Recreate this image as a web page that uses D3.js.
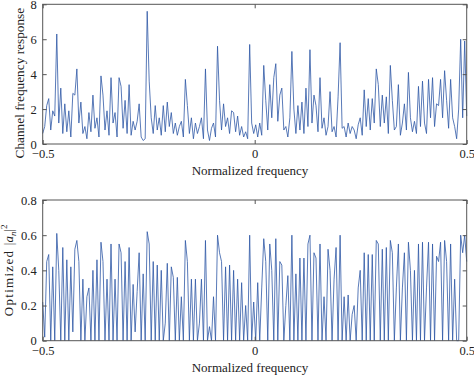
<!DOCTYPE html>
<html>
<head>
<meta charset="utf-8">
<script src="https://cdn.jsdelivr.net/npm/d3@7"></script>
<style>
body { margin: 0; background: #fff; }
text { font-family: "Liberation Serif", "Times New Roman", serif; fill: #222; }
</style>
</head>
<body>
<div id="chart"></div>
<script>
// channel frequency response (top panel)
var response = [
    0.6, 1.0, 2.2, 2.6, 0.8, 1.9, 1.6, 6.3, 1.2, 3.2,
    0.6, 2.3, 0.7, 1.9, 0.4, 2.9, 2.8, 4.3, 1.2, 2.4,
    0.6, 1.0, 0.3, 1.8, 0.7, 2.8, 0.9, 1.5, 0.4, 3.9,
    2.8, 0.8, 1.9, 0.5, 3.8, 1.2, 1.8, 0.4, 3.8, 3.3,
    0.9, 2.5, 0.6, 3.4, 0.5, 1.3, 0.8, 1.3, 2.3, 0.4,
    0.2, 0.3, 7.6, 3.6, 1.5, 0.6, 2.2, 0.8, 1.5, 0.5,
    2.2, 0.7, 2.4, 1.0, 1.8, 0.6, 1.2, 0.5, 1.0, 1.3,
    0.4, 3.7, 2.2, 0.6, 1.5, 0.3, 1.2, 0.6, 1.0, 1.5,
    0.3, 4.3, 0.8, 0.2, 0.9, 1.2, 0.4, 5.6, 2.5, 0.8,
    2.3, 1.0, 1.5, 0.6, 1.9, 1.8, 0.7, 1.6, 0.5, 1.0,
    0.4, 0.7, 0.3, 5.7, 1.2, 0.6, 1.1, 0.4, 1.2, 0.5,
    4.5, 2.5, 0.8, 3.4, 1.5, 3.8, 4.6, 1.3, 2.8, 3.2,
    0.8, 1.0, 0.4, 1.5, 5.3, 2.0, 0.6, 2.2, 0.8, 2.4,
    0.6, 3.2, 1.0, 5.4, 1.2, 2.8, 2.2, 0.7, 3.8, 0.9,
    1.5, 0.5, 1.0, 3.0, 0.7, 1.0, 0.4, 2.7, 5.8, 0.9,
    1.0, 0.4, 1.2, 0.6, 1.0, 0.8, 0.3, 1.1, 1.5, 0.5,
    3.1, 1.0, 2.6, 0.8, 2.6, 1.2, 4.3, 3.4, 1.0, 2.8,
    1.2, 2.7, 0.6, 4.5, 2.5, 0.8, 1.0, 3.4, 0.5, 1.2,
    2.3, 0.8, 4.1, 1.5, 0.7, 1.3, 0.6, 3.3, 1.0, 3.6,
    1.2, 0.6, 3.7, 1.5, 3.8, 1.0, 2.3, 2.2, 3.7, 1.5,
    4.2, 2.5, 0.9, 3.7, 1.5, 1.0, 0.3, 2.0, 6.0, 1.5,
    5.9, 1.6
];

// optimized |a_n|^2 (bottom panel)
var coeffs = [
    0.22, 0.02, 0.45, 0.49, 0.00, 0.42, 0.00, 0.61, 0.40, 0.00,
    0.53, 0.00, 0.46, 0.00, 0.42, 0.05, 0.52, 0.57, 0.45, 0.00,
    0.35, 0.00, 0.25, 0.30, 0.00, 0.40, 0.00, 0.46, 0.00, 0.56,
    0.45, 0.00, 0.35, 0.00, 0.55, 0.00, 0.35, 0.00, 0.55, 0.50,
    0.00, 0.45, 0.00, 0.53, 0.00, 0.32, 0.05, 0.28, 0.50, 0.00,
    0.38, 0.00, 0.62, 0.55, 0.00, 0.45, 0.00, 0.43, 0.00, 0.40,
    0.00, 0.10, 0.44, 0.00, 0.42, 0.36, 0.00, 0.36, 0.00, 0.25,
    0.00, 0.57, 0.45, 0.00, 0.35, 0.00, 0.35, 0.00, 0.10, 0.35,
    0.00, 0.57, 0.00, 0.08, 0.00, 0.25, 0.00, 0.60, 0.50, 0.45,
    0.00, 0.42, 0.00, 0.43, 0.00, 0.40, 0.00, 0.35, 0.00, 0.33,
    0.00, 0.20, 0.00, 0.60, 0.00, 0.22, 0.00, 0.33, 0.00, 0.30,
    0.58, 0.45, 0.00, 0.55, 0.40, 0.00, 0.58, 0.00, 0.45, 0.43,
    0.00, 0.20, 0.37, 0.00, 0.60, 0.00, 0.38, 0.00, 0.47, 0.00,
    0.47, 0.00, 0.55, 0.60, 0.00, 0.50, 0.47, 0.00, 0.55, 0.00,
    0.25, 0.00, 0.52, 0.40, 0.00, 0.35, 0.53, 0.00, 0.60, 0.00,
    0.25, 0.00, 0.26, 0.00, 0.15, 0.20, 0.00, 0.30, 0.40, 0.00,
    0.50, 0.00, 0.49, 0.00, 0.49, 0.00, 0.57, 0.55, 0.00, 0.52,
    0.00, 0.53, 0.00, 0.57, 0.50, 0.00, 0.30, 0.55, 0.00, 0.30,
    0.50, 0.00, 0.56, 0.40, 0.00, 0.40, 0.00, 0.55, 0.00, 0.56,
    0.00, 0.30, 0.56, 0.00, 0.55, 0.00, 0.48, 0.45, 0.56, 0.00,
    0.57, 0.45, 0.00, 0.55, 0.00, 0.35, 0.00, 0.00, 0.60, 0.50,
    0.60, 0.45
];

var xTicks = [-0.5, 0, 0.5];
var xTickLabels = ["\u22120.5", "0", "0.5"];
var topTicks = [0, 2, 4, 6, 8];
var topTickLabels = ["0", "2", "4", "6", "8"];
var botTicks = [0, 0.2, 0.4, 0.6, 0.8];
var botTickLabels = ["0", "0.2", "0.4", "0.6", "0.8"];

var width = 474;
var height = 375;
var lineColor = "#2f58a6";
var frameColor = "#555";

var svg = d3.select("#chart")
    .append("svg")
    .attr("width", width)
    .attr("height", height);

var x = d3.scaleLinear().domain([-0.5, 0.5]).range([42.7, 466.7]);

function drawPanel(values, yDomain, yRange, yTicks, yLabels, drawTitle) {
    var y = d3.scaleLinear().domain(yDomain).range(yRange);
    var n = values.length;
    var g = svg.append("g");

    var line = d3.line()
        .x(function (d, i) { return x(-0.5 + i / (n - 1)); })
        .y(function (d) { return y(d); });

    g.append("path")
        .datum(values)
        .attr("d", line)
        .attr("fill", "none")
        .attr("stroke", lineColor)
        .attr("stroke-width", 0.8)
        .attr("stroke-linejoin", "round");

    // frame
    g.append("rect")
        .attr("x", x.range()[0])
        .attr("y", yRange[1])
        .attr("width", x.range()[1] - x.range()[0])
        .attr("height", yRange[0] - yRange[1])
        .attr("fill", "none")
        .attr("stroke", frameColor)
        .attr("stroke-width", 1);

    var left = d3.axisLeft(y).tickValues(yTicks)
        .tickSizeInner(-4).tickSizeOuter(0).tickPadding(6)
        .tickFormat(function (d, i) { return yLabels[i]; });
    var right = d3.axisRight(y).tickValues(yTicks)
        .tickSizeInner(-4).tickSizeOuter(0).tickFormat("");
    var bottom = d3.axisBottom(x).tickValues(xTicks)
        .tickSizeInner(-4).tickSizeOuter(0).tickPadding(5)
        .tickFormat(function (d, i) { return xTickLabels[i]; });
    var top = d3.axisTop(x).tickValues(xTicks)
        .tickSizeInner(-4).tickSizeOuter(0).tickFormat("");

    var axes = [
        [left, "translate(" + x.range()[0] + ",0)"],
        [right, "translate(" + x.range()[1] + ",0)"],
        [bottom, "translate(0," + yRange[0] + ")"],
        [top, "translate(0," + yRange[1] + ")"]
    ];
    axes.forEach(function (a) {
        var ag = g.append("g").attr("transform", a[1]).call(a[0]);
        ag.select(".domain").remove();
        ag.selectAll("line").attr("stroke", frameColor);
        ag.selectAll("text")
            .attr("font-family", "Liberation Serif")
            .attr("font-size", 12.5)
            .attr("fill", "#222");
    });

    g.append("text")
        .attr("x", 250)
        .attr("y", yRange[0] + 31)
        .attr("text-anchor", "middle")
        .attr("font-size", 13)
        .text("Normalized frequency");

    drawTitle(g, (yRange[0] + yRange[1]) / 2);
}

drawPanel(response, [0, 8], [144, 4.3], topTicks, topTickLabels, function (g, cy) {
    g.append("text")
        .attr("transform", "translate(24," + (cy + 9) + ") rotate(-90)")
        .attr("text-anchor", "middle")
        .attr("font-size", 13.3)
        .text("Channel frequency response");
});

drawPanel(coeffs, [0, 0.8], [340.7, 200], botTicks, botTickLabels, function (g, cy) {
    var t = g.append("text")
        .attr("transform", "translate(13," + cy + ") rotate(-90)")
        .attr("text-anchor", "middle")
        .attr("font-size", 13);
    t.append("tspan").attr("letter-spacing", 1.3).text("Optimized ");
    t.append("tspan").text("|");
    t.append("tspan").attr("font-style", "italic").text("a");
    t.append("tspan").attr("font-style", "italic").attr("font-size", 9).attr("dy", 3).text("n");
    t.append("tspan").attr("dy", -3).text("|");
    t.append("tspan").attr("font-size", 9).attr("dy", -6).text("2");
});
</script>
</body>
</html>
